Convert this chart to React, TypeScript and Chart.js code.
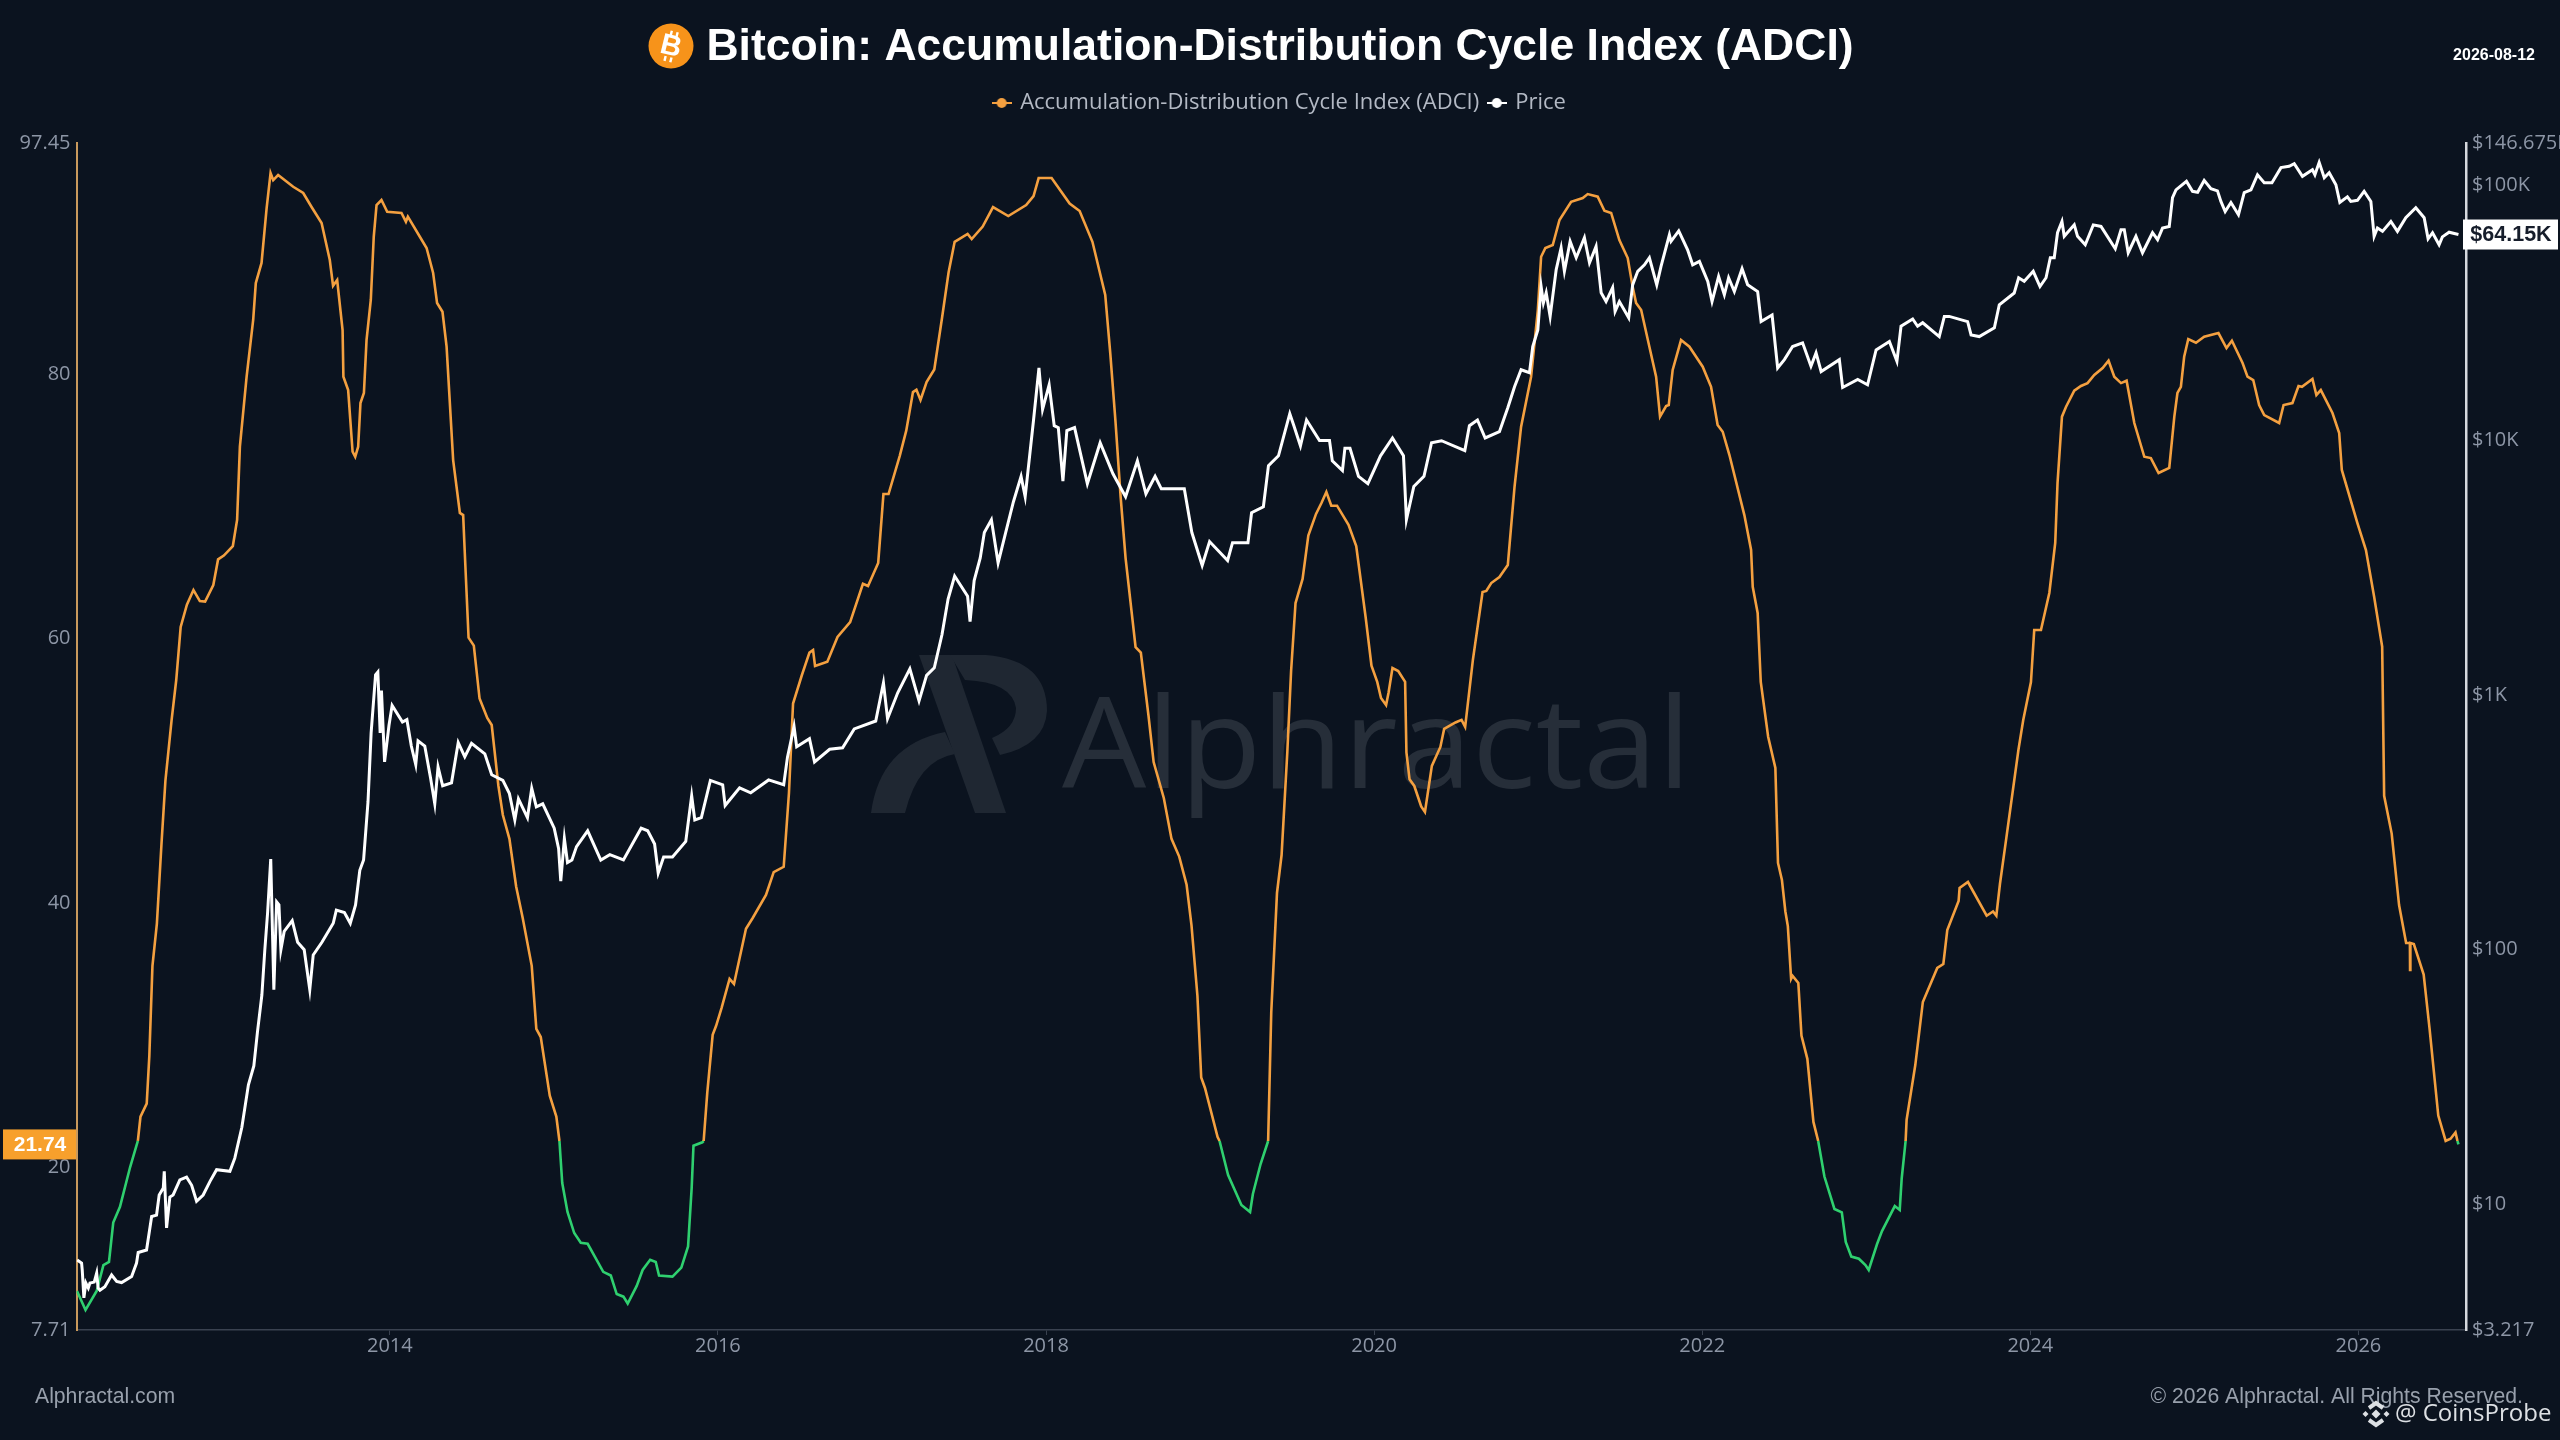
import React, { useEffect, useRef } from "react";
import { Chart, registerables } from "chart.js";

Chart.register(...registerables);

const CHART_TITLE = "Bitcoin: Accumulation-Distribution Cycle Index (ADCI)";
const ADCI_LABEL = "Accumulation-Distribution Cycle Index (ADCI)";
const PRICE_LABEL = "Price";
const DATE_LABEL = "2026-08-12";
const LEFT_FOOTER = "Alphractal.com";
const RIGHT_FOOTER = "© 2026 Alphractal. All Rights Reserved.";
const WATERMARK_TEXT = "Alphractal";
const CREDIT_TEXT = "@ CoinsProbe";

const xTickValues = [2014, 2016, 2018, 2020, 2022, 2024, 2026];
const adciTickValues = [7.71, 20, 40, 60, 80, 97.45];
const priceTickValues = [3.217, 10, 100, 1000, 10000, 100000, 146675];
const priceTickLabels = ["$3.217", "$10", "$100", "$1K", "$10K", "$100K", "$146.675K"];
const X_MIN = 2012.09;
const X_MAX = 2026.656;
const ADCI_LAST_LABEL = "21.74";
const PRICE_LAST_LABEL = "$64.15K";
const GREEN_LIMIT = 22;

const adciYears = [
  2012.093, 2012.145, 2012.213, 2012.254, 2012.288, 2012.314, 2012.355, 2012.417, 2012.464, 2012.48, 2012.518, 2012.534,
  2012.553, 2012.58, 2012.608, 2012.632, 2012.67, 2012.698, 2012.725, 2012.763, 2012.803, 2012.842, 2012.874, 2012.924,
  2012.953, 2012.988, 2013.043, 2013.069, 2013.086, 2013.127, 2013.167, 2013.183, 2013.218, 2013.249, 2013.273, 2013.289,
  2013.319, 2013.411, 2013.472, 2013.523, 2013.584, 2013.634, 2013.654, 2013.679, 2013.712, 2013.717, 2013.746, 2013.773,
  2013.789, 2013.807, 2013.821, 2013.842, 2013.858, 2013.884, 2013.902, 2013.919, 2013.949, 2013.984, 2014.071, 2014.098,
  2014.11, 2014.183, 2014.224, 2014.264, 2014.288, 2014.321, 2014.346, 2014.386, 2014.427, 2014.447, 2014.457, 2014.48,
  2014.512, 2014.547, 2014.594, 2014.621, 2014.662, 2014.689, 2014.729, 2014.77, 2014.81, 2014.865, 2014.893, 2014.92,
  2014.975, 2015.015, 2015.034, 2015.051, 2015.083, 2015.124, 2015.164, 2015.206, 2015.301, 2015.347, 2015.383, 2015.424,
  2015.45, 2015.505, 2015.541, 2015.587, 2015.621, 2015.641, 2015.723, 2015.777, 2015.818, 2015.84, 2015.851, 2015.905,
  2015.913, 2015.935, 2015.968, 2015.989, 2016.022, 2016.071, 2016.098, 2016.171, 2016.212, 2016.293, 2016.34, 2016.401,
  2016.433, 2016.458, 2016.511, 2016.558, 2016.58, 2016.592, 2016.667, 2016.729, 2016.806, 2016.884, 2016.915, 2016.977,
  2017.009, 2017.04, 2017.108, 2017.148, 2017.189, 2017.21, 2017.235, 2017.272, 2017.319, 2017.366, 2017.406, 2017.443,
  2017.522, 2017.547, 2017.614, 2017.677, 2017.77, 2017.879, 2017.924, 2017.955, 2018.034, 2018.144, 2018.205, 2018.283,
  2018.361, 2018.392, 2018.423, 2018.455, 2018.485, 2018.546, 2018.578, 2018.625, 2018.656, 2018.718, 2018.765, 2018.812,
  2018.857, 2018.887, 2018.923, 2018.946, 2018.969, 2019.046, 2019.058, 2019.11, 2019.191, 2019.244, 2019.261, 2019.308,
  2019.354, 2019.373, 2019.408, 2019.436, 2019.471, 2019.494, 2019.521, 2019.564, 2019.599, 2019.646, 2019.679, 2019.709,
  2019.739, 2019.774, 2019.844, 2019.891, 2019.948, 2019.984, 2020.019, 2020.042, 2020.073, 2020.088, 2020.112, 2020.147,
  2020.189, 2020.197, 2020.216, 2020.245, 2020.287, 2020.31, 2020.352, 2020.404, 2020.427, 2020.496, 2020.533, 2020.555,
  2020.602, 2020.661, 2020.684, 2020.714, 2020.764, 2020.815, 2020.856, 2020.896, 2020.957, 2020.998, 2021.018, 2021.044,
  2021.089, 2021.13, 2021.201, 2021.272, 2021.302, 2021.363, 2021.404, 2021.445, 2021.495, 2021.546, 2021.576, 2021.597,
  2021.628, 2021.678, 2021.719, 2021.743, 2021.78, 2021.796, 2021.82, 2021.871, 2021.922, 2022.003, 2022.054, 2022.094,
  2022.125, 2022.166, 2022.257, 2022.298, 2022.308, 2022.338, 2022.357, 2022.402, 2022.446, 2022.462, 2022.486, 2022.507,
  2022.522, 2022.542, 2022.551, 2022.586, 2022.605, 2022.641, 2022.678, 2022.707, 2022.745, 2022.806, 2022.851, 2022.875,
  2022.909, 2022.955, 2022.995, 2023.015, 2023.066, 2023.096, 2023.174, 2023.204, 2023.216, 2023.24, 2023.246, 2023.299,
  2023.345, 2023.433, 2023.47, 2023.494, 2023.563, 2023.569, 2023.62, 2023.734, 2023.773, 2023.793, 2023.815, 2023.854,
  2023.928, 2023.957, 2024.004, 2024.024, 2024.065, 2024.116, 2024.152, 2024.166, 2024.193, 2024.218, 2024.268, 2024.309,
  2024.349, 2024.39, 2024.441, 2024.477, 2024.512, 2024.553, 2024.587, 2024.634, 2024.695, 2024.735, 2024.782, 2024.847,
  2024.878, 2024.897, 2024.918, 2024.938, 2024.963, 2025.01, 2025.06, 2025.147, 2025.196, 2025.229, 2025.294, 2025.324,
  2025.359, 2025.395, 2025.426, 2025.517, 2025.544, 2025.598, 2025.635, 2025.656, 2025.72, 2025.744, 2025.771, 2025.842,
  2025.883, 2025.899, 2025.994, 2026.046, 2026.096, 2026.145, 2026.157, 2026.203, 2026.248, 2026.291, 2026.314, 2026.315,
  2026.317, 2026.338, 2026.398, 2026.434, 2026.487, 2026.532, 2026.562, 2026.592, 2026.604, 2026.61,
];

const adciValues = [
  10.66, 9.22, 10.66, 12.62, 12.85, 15.83, 17.03, 20.03, 22.0, 23.84, 24.83, 28.43,
  35.24, 38.44, 44.45, 49.24, 53.85, 56.85, 60.86, 62.54, 63.65, 62.82, 62.78, 64.03,
  65.97, 66.26, 66.98, 68.95, 74.49, 79.78, 84.07, 86.86, 88.38, 92.53, 95.18, 94.65,
  95.03, 94.14, 93.67, 92.61, 91.4, 88.6, 86.66, 87.09, 83.31, 79.78, 78.77, 74.11,
  73.73, 74.49, 77.79, 78.55, 82.55, 85.58, 90.36, 92.76, 93.14, 92.25, 92.16, 91.5,
  91.88, 90.36, 89.51, 87.62, 85.35, 84.69, 82.05, 73.48, 69.48, 69.32, 66.45, 60.05,
  59.45, 55.45, 53.98, 53.45, 48.84, 46.64, 44.84, 41.24, 38.86, 35.24, 30.47, 29.86,
  25.43, 23.84, 22.0, 18.82, 16.63, 15.04, 14.31, 14.23, 12.11, 11.83, 10.43, 10.23,
  9.71, 11.04, 12.25, 13.02, 12.85, 11.83, 11.75, 12.43, 14.03, 18.45, 21.64, 21.9,
  22.0, 25.63, 30.03, 30.71, 32.05, 34.25, 33.87, 38.04, 38.86, 40.6, 42.33, 42.73,
  48.31, 55.07, 57.19, 58.92, 59.12, 57.91, 58.23, 60.1, 61.23, 64.13, 63.96, 65.7,
  70.91, 70.91, 73.78, 75.7, 78.62, 78.79, 78.02, 79.38, 80.33, 84.22, 87.66, 89.98,
  90.57, 90.19, 91.13, 92.61, 91.93, 92.76, 93.44, 94.8, 94.8, 92.87, 92.31, 89.98,
  85.96, 81.5, 76.48, 70.68, 66.07, 59.34, 58.92, 54.13, 50.65, 47.93, 44.84, 43.5,
  41.37, 38.28, 32.96, 26.8, 26.01, 22.3, 22.0, 19.43, 17.16, 16.63, 17.99, 20.26,
  22.0, 31.71, 40.75, 43.62, 51.41, 57.53, 62.67, 64.49, 67.77, 69.41, 70.23, 71.06,
  70.03, 70.03, 68.59, 66.98, 61.63, 57.94, 56.71, 55.49, 54.96, 55.89, 57.76, 57.53,
  56.71, 51.38, 49.34, 48.84, 47.29, 46.87, 50.36, 51.79, 53.15, 53.64, 53.84, 53.31,
  58.36, 63.5, 63.58, 64.18, 64.64, 65.54, 71.46, 76.0, 79.78, 84.82, 88.85, 89.51,
  89.74, 91.63, 93.01, 93.29, 93.59, 93.39, 92.33, 92.16, 90.11, 88.75, 86.58, 85.35,
  84.82, 82.05, 79.78, 76.76, 77.56, 77.64, 80.29, 82.55, 82.05, 80.54, 79.02, 76.13,
  75.62, 73.86, 69.32, 66.68, 63.9, 61.92, 56.7, 52.56, 50.2, 43.02, 41.73, 39.35,
  38.25, 34.26, 34.48, 33.94, 29.97, 28.21, 23.44, 22.0, 19.31, 16.86, 16.6, 14.37,
  13.26, 13.1, 12.62, 12.25, 14.21, 15.19, 17.08, 16.78, 19.15, 22.0, 23.6, 27.74,
  32.51, 35.08, 35.38, 37.95, 40.14, 41.13, 41.58, 39.03, 39.35, 39.03, 41.43, 44.92,
  51.6, 53.83, 56.7, 60.63, 60.63, 63.43, 67.21, 71.74, 76.76, 77.51, 78.72, 79.08,
  79.3, 79.91, 80.44, 80.99, 79.78, 79.3, 79.48, 76.28, 73.73, 73.63, 72.5, 72.88,
  76.76, 78.55, 79.02, 81.29, 82.63, 82.35, 82.8, 83.08, 81.95, 82.5, 80.82, 79.78,
  79.53, 77.64, 76.88, 76.28, 77.64, 77.79, 79.08, 79.02, 79.61, 78.4, 78.77, 77.04,
  75.52, 72.73, 68.72, 66.68, 63.15, 59.37, 48.1, 45.24, 39.84, 36.97, 36.97, 34.93,
  36.97, 36.89, 34.58, 30.47, 23.92, 22.01, 22.17, 22.65, 22.0, 21.74,
];

const priceYears = [
  2012.094, 2012.121, 2012.125, 2012.135, 2012.147, 2012.162, 2012.172, 2012.198, 2012.213, 2012.222, 2012.233, 2012.263,
  2012.304, 2012.335, 2012.365, 2012.426, 2012.456, 2012.466, 2012.517, 2012.548, 2012.578, 2012.594, 2012.619, 2012.625,
  2012.639, 2012.659, 2012.679, 2012.72, 2012.761, 2012.792, 2012.822, 2012.862, 2012.903, 2012.944, 2013.025, 2013.055,
  2013.098, 2013.138, 2013.171, 2013.193, 2013.22, 2013.238, 2013.255, 2013.274, 2013.293, 2013.31, 2013.324, 2013.336,
  2013.356, 2013.405, 2013.438, 2013.478, 2013.512, 2013.533, 2013.586, 2013.655, 2013.674, 2013.723, 2013.759, 2013.791,
  2013.817, 2013.84, 2013.867, 2013.886, 2013.913, 2013.927, 2013.941, 2013.949, 2013.968, 2013.995, 2014.014, 2014.077,
  2014.104, 2014.131, 2014.158, 2014.172, 2014.213, 2014.248, 2014.274, 2014.294, 2014.322, 2014.376, 2014.417, 2014.457,
  2014.498, 2014.579, 2014.621, 2014.689, 2014.729, 2014.762, 2014.784, 2014.839, 2014.865, 2014.893, 2014.932, 2015.002,
  2015.029, 2015.042, 2015.064, 2015.083, 2015.11, 2015.138, 2015.206, 2015.286, 2015.341, 2015.424, 2015.532, 2015.572,
  2015.614, 2015.636, 2015.669, 2015.723, 2015.804, 2015.84, 2015.859, 2015.899, 2015.954, 2016.029, 2016.044, 2016.132,
  2016.2, 2016.309, 2016.401, 2016.424, 2016.464, 2016.48, 2016.558, 2016.589, 2016.681, 2016.76, 2016.831, 2016.962,
  2017.009, 2017.034, 2017.096, 2017.17, 2017.226, 2017.272, 2017.319, 2017.366, 2017.403, 2017.443, 2017.522, 2017.537,
  2017.562, 2017.599, 2017.624, 2017.667, 2017.708, 2017.754, 2017.801, 2017.848, 2017.873, 2017.924, 2017.957, 2017.979,
  2018.019, 2018.05, 2018.075, 2018.103, 2018.127, 2018.174, 2018.252, 2018.33, 2018.408, 2018.485, 2018.557, 2018.609,
  2018.665, 2018.703, 2018.843, 2018.889, 2018.952, 2018.997, 2019.107, 2019.137, 2019.231, 2019.253, 2019.325, 2019.356,
  2019.417, 2019.486, 2019.511, 2019.551, 2019.588, 2019.667, 2019.728, 2019.745, 2019.807, 2019.822, 2019.853, 2019.905,
  2019.962, 2020.039, 2020.112, 2020.179, 2020.197, 2020.242, 2020.304, 2020.35, 2020.411, 2020.553, 2020.581, 2020.63,
  2020.677, 2020.764, 2020.815, 2020.856, 2020.896, 2020.947, 2020.967, 2020.998, 2021.018, 2021.032, 2021.049, 2021.073,
  2021.11, 2021.14, 2021.16, 2021.195, 2021.232, 2021.282, 2021.313, 2021.353, 2021.384, 2021.414, 2021.454, 2021.469,
  2021.495, 2021.552, 2021.576, 2021.607, 2021.648, 2021.678, 2021.723, 2021.749, 2021.8, 2021.81, 2021.857, 2021.911,
  2021.942, 2021.983, 2022.034, 2022.06, 2022.1, 2022.135, 2022.161, 2022.196, 2022.243, 2022.277, 2022.338, 2022.359,
  2022.426, 2022.46, 2022.501, 2022.551, 2022.612, 2022.663, 2022.694, 2022.725, 2022.836, 2022.856, 2022.948, 2023.008,
  2023.06, 2023.141, 2023.187, 2023.212, 2023.283, 2023.313, 2023.344, 2023.445, 2023.476, 2023.506, 2023.618, 2023.639,
  2023.689, 2023.781, 2023.811, 2023.902, 2023.929, 2023.963, 2024.018, 2024.059, 2024.096, 2024.122, 2024.146, 2024.166,
  2024.193, 2024.207, 2024.268, 2024.288, 2024.335, 2024.384, 2024.431, 2024.518, 2024.553, 2024.573, 2024.597, 2024.644,
  2024.684, 2024.745, 2024.776, 2024.806, 2024.847, 2024.867, 2024.888, 2024.952, 2024.989, 2025.02, 2025.06, 2025.101,
  2025.141, 2025.162, 2025.188, 2025.223, 2025.269, 2025.304, 2025.345, 2025.385, 2025.426, 2025.473, 2025.528, 2025.578,
  2025.609, 2025.659, 2025.72, 2025.735, 2025.761, 2025.792, 2025.822, 2025.863, 2025.887, 2025.933, 2025.954, 2025.994,
  2026.035, 2026.076, 2026.096, 2026.116, 2026.147, 2026.198, 2026.238, 2026.289, 2026.35, 2026.401, 2026.425, 2026.452,
  2026.492, 2026.512, 2026.553, 2026.61,
];

const priceValues = [
  6.06, 5.89, 5.53, 4.3, 4.92, 4.7, 4.92, 4.96, 5.38, 4.7, 4.61, 4.76,
  5.29, 4.99, 4.94, 5.22, 5.89, 6.48, 6.63, 8.97, 9.09, 10.9, 11.6, 13.5,
  8.09, 10.7, 10.9, 12.5, 12.8, 11.9, 10.3, 10.9, 12.3, 13.7, 13.5, 15.2,
  20.1, 29.5, 35, 47.5, 66.4, 100, 140, 227, 69.7, 154, 150, 100,
  118, 130, 107, 100, 69.7, 95.4, 107, 127, 143, 140, 127, 150,
  205, 225, 381, 710, 1200, 1230, 710, 1040, 546, 760, 910, 783,
  800, 630, 533, 660, 630, 473, 374, 522, 440, 452, 650, 572,
  646, 587, 486, 462, 410, 323, 391, 330, 430, 364, 374, 300,
  249, 186, 273, 220, 225, 254, 293, 225, 236, 225, 300, 293,
  260, 200, 231, 231, 266, 402, 323, 330, 462, 444, 368, 432,
  413, 464, 444, 570, 753, 626, 673, 546, 612, 620, 736, 790,
  1116, 807, 1020, 1266, 948, 1194, 1279, 1727, 2380, 2930, 2440, 1940,
  2810, 3450, 4340, 4870, 3300, 4340, 5720, 7210, 6000, 12000, 19200, 13200,
  16500, 11400, 11200, 6900, 10900, 11200, 6750, 9770, 7380, 6000, 8300, 6160,
  7210, 6440, 6440, 4340, 3220, 4000, 3370, 3960, 3960, 5190, 5480, 7940,
  8680, 12700, 11400, 9500, 12000, 9960, 9960, 8300, 7600, 9300, 9300, 7210,
  6750, 8680, 10200, 8680, 4870, 6580, 7210, 9770, 9950, 9100, 11400, 12000,
  10200, 10800, 13400, 16200, 18900, 18400, 23300, 27100, 40100, 34600, 37900, 30600,
  46700, 56900, 46000, 60300, 52000, 62300, 49700, 57600, 37900, 35000, 39700, 32000,
  35000, 30200, 40700, 46000, 48800, 52000, 40700, 48100, 64000, 60300, 66300, 55900,
  48800, 50300, 42000, 35000, 43900, 37200, 43400, 38300, 47100, 40700, 38300, 29200,
  31000, 19200, 20700, 23300, 24100, 19500, 22000, 18600, 20700, 16100, 17300, 16500,
  22600, 24400, 20400, 28000, 29900, 28000, 28900, 25500, 30600, 30600, 29200, 25900,
  25500, 27600, 34000, 37800, 43400, 42000, 46000, 40100, 43400, 52000, 52000, 65200,
  72200, 63100, 70000, 63100, 58500, 70000, 69000, 56400, 67000, 67000, 54400, 63100,
  54400, 65200, 61200, 68000, 69000, 89500, 96000, 103700, 94800, 94000, 104600, 97000,
  95200, 86500, 79000, 85700, 76700, 93600, 96000, 110000, 102500, 102500, 117400, 118800,
  121700, 108500, 115200, 110000, 123100, 107200, 112200, 100600, 85700, 90200, 86500, 87400,
  94800, 86500, 63100, 68000, 66000, 72200, 66000, 74700, 81700, 74700, 61700, 65200,
  58500, 62800, 65500, 64150,
];

const ORANGE = "#f4a040";
const GREEN = "#2fd06f";
const WHITE = "#ffffff";
const BG = "#0b131f";
const TICK_COLOR = "#8d96a6";
const SANS = '"Open Sans"';
const ARIAL = '"Liberation Sans"';

function legendMarker(color: string) {
  const c = document.createElement("canvas");
  c.width = 20;
  c.height = 12;
  const g = c.getContext("2d")!;
  g.strokeStyle = color;
  g.fillStyle = color;
  g.lineWidth = 2;
  g.beginPath();
  g.moveTo(0, 6);
  g.lineTo(20, 6);
  g.stroke();
  g.beginPath();
  g.arc(10, 6, 5, 0, Math.PI * 2);
  g.fill();
  return c;
}

function diamond(ctx: CanvasRenderingContext2D, x: number, y: number, r: number) {
  ctx.beginPath();
  ctx.moveTo(x, y - r);
  ctx.lineTo(x + r, y);
  ctx.lineTo(x, y + r);
  ctx.lineTo(x - r, y);
  ctx.closePath();
  ctx.fill();
}

function drawLogo(ctx: CanvasRenderingContext2D) {
  ctx.save();
  ctx.fillStyle = "#1f2732";
  // right leg of the A
  ctx.beginPath();
  ctx.moveTo(919, 655);
  ctx.lineTo(952, 655);
  ctx.lineTo(1006, 813);
  ctx.lineTo(975, 813);
  ctx.closePath();
  ctx.fill();
  // bowl of the P
  ctx.beginPath();
  ctx.moveTo(950, 655);
  ctx.lineTo(986, 655);
  ctx.quadraticCurveTo(1047, 660, 1047, 711);
  ctx.quadraticCurveTo(1045, 745, 1000, 755);
  ctx.lineTo(992, 738);
  ctx.quadraticCurveTo(1016, 728, 1016, 708);
  ctx.quadraticCurveTo(1012, 682, 965, 680);
  ctx.closePath();
  ctx.fill();
  // left swoosh
  ctx.beginPath();
  ctx.moveTo(871, 813);
  ctx.quadraticCurveTo(880, 745, 945, 732);
  ctx.lineTo(955, 754);
  ctx.quadraticCurveTo(918, 760, 905, 813);
  ctx.closePath();
  ctx.fill();
  ctx.restore();
}

const decorations = {
  id: "decorations",
  beforeDraw(chart: any) {
    const { ctx, width, height } = chart;
    ctx.save();
    ctx.fillStyle = BG;
    ctx.fillRect(0, 0, width, height);
    ctx.restore();
  },
  beforeDatasetsDraw(chart: any) {
    const { ctx } = chart;
    drawLogo(ctx);
    ctx.save();
    ctx.fillStyle = "#262e39";
    ctx.font = `127px ${SANS}`;
    ctx.textAlign = "left";
    ctx.textBaseline = "alphabetic";
    ctx.translate(1062, 788);
    ctx.scale(1.05, 1);
    ctx.fillText(WATERMARK_TEXT, 0, 0);
    ctx.restore();
  },
  afterDraw(chart: any) {
    const { ctx, scales } = chart;
    ctx.save();
    // coin badge beside the title
    ctx.fillStyle = "#f7931a";
    ctx.beginPath();
    ctx.arc(671, 46, 22.5, 0, Math.PI * 2);
    ctx.fill();
    ctx.translate(671, 46);
    ctx.rotate(0.24);
    ctx.fillStyle = "#ffffff";
    ctx.font = `bold 29px ${ARIAL}`;
    ctx.textAlign = "center";
    ctx.textBaseline = "middle";
    ctx.fillText("B", 0, 1);
    ctx.fillRect(-4, -15, 2.4, 5);
    ctx.fillRect(2, -15, 2.4, 5);
    ctx.fillRect(-4, 11, 2.4, 5);
    ctx.fillRect(2, 11, 2.4, 5);
    ctx.restore();

    ctx.save();
    ctx.fillStyle = "#ffffff";
    ctx.font = `bold 16px ${ARIAL}`;
    ctx.textAlign = "center";
    ctx.textBaseline = "middle";
    ctx.fillText(DATE_LABEL, 2494, 56);

    // footer
    ctx.fillStyle = "#98a0ac";
    ctx.font = `21.2px ${ARIAL}`;
    ctx.textAlign = "left";
    ctx.fillText(LEFT_FOOTER, 35, 1397);
    ctx.textAlign = "right";
    ctx.fillText(RIGHT_FOOTER, 2523, 1397);

    // credit
    ctx.fillStyle = "#dde0e4";
    ctx.font = `24px ${SANS}`;
    ctx.textAlign = "left";
    ctx.fillText(CREDIT_TEXT, 2395, 1414);
    diamond(ctx, 2376, 1414, 4.5);
    diamond(ctx, 2365.5, 1414, 3);
    diamond(ctx, 2386.5, 1414, 3);
    ctx.lineWidth = 4;
    ctx.strokeStyle = "#dde0e4";
    ctx.beginPath();
    ctx.moveTo(2369, 1408);
    ctx.lineTo(2376, 1403);
    ctx.lineTo(2383, 1408);
    ctx.moveTo(2369, 1420);
    ctx.lineTo(2376, 1425);
    ctx.lineTo(2383, 1420);
    ctx.stroke();

    // last-value flags, placed by the scales
    const adciY = scales.y.getPixelForValue(adciValues[adciValues.length - 1]);
    ctx.fillStyle = "#f7a02c";
    ctx.fillRect(3, adciY - 15, 73, 30);
    ctx.fillStyle = "#ffffff";
    ctx.font = `bold 21px ${ARIAL}`;
    ctx.textAlign = "center";
    ctx.fillText(ADCI_LAST_LABEL, 40, adciY + 1);

    const priceY = scales.y1.getPixelForValue(priceValues[priceValues.length - 1]);
    ctx.fillStyle = "#ffffff";
    ctx.fillRect(2463, priceY - 15, 95, 30);
    ctx.fillStyle = "#161d2b";
    ctx.font = `bold 21.5px ${ARIAL}`;
    ctx.fillText(PRICE_LAST_LABEL, 2511, priceY + 1);
    ctx.restore();
  },
};

const spacerPlugin = {
  id: "topSpacer",
  beforeInit(chart: any) {
    const box: any = {
      position: "top",
      weight: 500,
      fullSize: true,
      options: {},
      isHorizontal: () => true,
      update(w: number) {
        box.width = w;
        box.height = 19;
      },
      draw() {},
    };
    chart.boxes = chart.boxes || [];
    box._layers = () => [{ z: 0, draw() {} }];
    chart.boxes.push(box);
  },
};

export default function App() {
  const ref = useRef<HTMLCanvasElement | null>(null);

  useEffect(() => {
    document.body.style.margin = "0";
    document.body.style.background = BG;
    const adciPoints = adciYears.map((x, i) => ({ x, y: adciValues[i] }));
    const pricePoints = priceYears.map((x, i) => ({ x, y: priceValues[i] }));
    const chart = new Chart(ref.current as HTMLCanvasElement, {
      type: "line",
      data: {
        datasets: [
          {
            label: ADCI_LABEL,
            data: adciPoints,
            yAxisID: "y",
            order: 2,
            borderColor: ORANGE,
            backgroundColor: ORANGE,
            borderWidth: 2.6,
            pointRadius: 0,
            tension: 0,
            segment: {
              borderColor: (c: any) =>
                c.p0.parsed.y <= GREEN_LIMIT && c.p1.parsed.y <= GREEN_LIMIT ? GREEN : ORANGE,
            },
          },
          {
            label: PRICE_LABEL,
            data: pricePoints,
            yAxisID: "y1",
            order: 1,
            borderColor: WHITE,
            backgroundColor: WHITE,
            borderWidth: 3,
            pointRadius: 0,
            tension: 0,
          },
        ],
      },
      options: {
        responsive: false,
        devicePixelRatio: 1,
        animation: false,
        layout: { padding: 0 },
        plugins: {
          tooltip: { enabled: false },
          title: {
            display: true,
            text: CHART_TITLE,
            color: "#ffffff",
            font: { family: ARIAL, size: 44.5, weight: "bold", lineHeight: 1.2 },
            padding: { top: 21, bottom: 7.6 },
          },
          legend: {
            display: true,
            position: "top",
            labels: {
              color: "#b3b9c4",
              font: { family: SANS, size: 22 },
              usePointStyle: true,
              pointStyleWidth: 15,
              padding: 10,
              generateLabels: () => [
                {
                  text: ADCI_LABEL,
                  fontColor: "#b3b9c4",
                  pointStyle: legendMarker(ORANGE) as any,
                  datasetIndex: 0,
                  hidden: false,
                  strokeStyle: ORANGE,
                  fillStyle: ORANGE,
                  lineWidth: 0,
                },
                {
                  text: PRICE_LABEL,
                  fontColor: "#b3b9c4",
                  pointStyle: legendMarker(WHITE) as any,
                  datasetIndex: 1,
                  hidden: false,
                  strokeStyle: WHITE,
                  fillStyle: WHITE,
                  lineWidth: 0,
                },
              ],
            },
          },
        },
        scales: {
          x: {
            type: "linear",
            min: X_MIN,
            max: X_MAX,
            afterFit: (s: any) => {
              s.height = 110;
            },
            afterBuildTicks: (s: any) => {
              s.ticks = xTickValues.map((value) => ({ value }));
            },
            border: { display: true, color: "#3a4250", width: 1.5 },
            grid: { display: true, drawOnChartArea: false, color: "#3a4250", tickLength: 5 },
            ticks: {
              autoSkip: false,
              maxRotation: 0,
              color: TICK_COLOR,
              padding: -1,
              font: { family: SANS, size: 20 },
              callback: (v: any) => String(v),
            },
          },
          y: {
            type: "linear",
            position: "left",
            min: 7.71,
            max: 97.45,
            afterFit: (s: any) => {
              s.width = 76.5;
            },
            afterBuildTicks: (s: any) => {
              s.ticks = adciTickValues.map((value) => ({ value }));
            },
            border: { display: true, color: "#c9995c", width: 2 },
            grid: { display: false, drawTicks: false },
            ticks: {
              autoSkip: false,
              color: TICK_COLOR,
              padding: 6,
              font: { family: SANS, size: 20 },
              callback: (v: any) => String(v),
            },
          },
          y1: {
            type: "logarithmic",
            position: "right",
            min: 3.217,
            max: 146675,
            afterFit: (s: any) => {
              s.width = 94;
            },
            afterBuildTicks: (s: any) => {
              s.ticks = priceTickValues.map((value) => ({ value }));
            },
            border: { display: true, color: "#d5d8dd", width: 2.5 },
            grid: { display: false, drawTicks: false },
            ticks: {
              autoSkip: false,
              color: TICK_COLOR,
              padding: 6,
              font: { family: SANS, size: 20 },
              callback: (v: any) => {
                const i = priceTickValues.indexOf(v);
                return i >= 0 ? priceTickLabels[i] : "";
              },
            },
          },
        },
      } as any,
      plugins: [decorations, spacerPlugin] as any,
    });
    return () => chart.destroy();
  }, []);

  return (
    <div style={{ position: "fixed", left: 0, top: 0, width: 2560, height: 1440, background: BG }}>
      <canvas ref={ref} width={2560} height={1440} style={{ display: "block", width: 2560, height: 1440 }} />
    </div>
  );
}
